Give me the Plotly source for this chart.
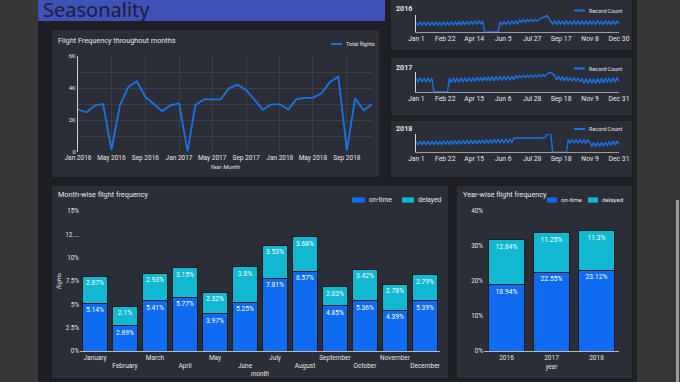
import plotly.graph_objects as go
import pandas as pd

W, H = 680, 382
def fx(p): return p / W
def fy(p): return 1 - p / H

# ---------------- data ----------------
month_starts = pd.date_range('2016-01-01', periods=36, freq='MS')
total_flights = [2670, 2500, 2920, 3020, 150, 2940, 4080, 4440, 3460, 3020, 2580, 2940,
                 3060, 60, 2940, 3310, 3310, 3310, 4000, 4230, 3900, 3250, 2650, 3000,
                 3000, 2670, 3310, 3400, 3400, 3690, 4380, 4730, 120, 3380, 2630, 3000]

record_2016 = [88, 62, 88, 62, 88, 62, 88, 62, 88, 62, 88, 62, 88, 62, 88, 62,
               90, 64, 90, 64, 92, 64, 92, 66, 94, 66, 94, 68, 96, 70, 98, 72,
               100, 74, 100,
               0, 0, 0, 0, 0, 0, 0, 0,
               92, 66, 94, 68, 96, 70, 98, 72, 100, 74,
               110, 90, 112, 92, 114, 94, 116, 96, 116, 98,
               116, 122, 130, 140, 152, 120,
               100, 70, 98, 68, 100, 70, 98, 68, 100, 70, 98, 68, 100, 70, 98, 68, 100, 70,
               98, 68, 100, 70, 98, 68, 100, 70, 98, 68, 100, 70, 98, 68, 100, 70, 98, 68]
record_2017 = [100, 70, 102, 72, 100, 70, 102, 72, 100,
               0, 0, 0, 0, 0, 0, 0, 0,
               98, 66, 100, 68, 100, 70, 102, 70, 102, 72, 104, 72, 104, 74,
               106, 76, 106, 78, 108, 78, 108, 80, 110, 80, 110, 82, 112, 82, 112, 84, 114, 84, 114, 86,
               116, 100, 118, 102, 118, 104, 120, 104, 122, 106, 122, 108, 124, 110, 126, 112,
               130, 138, 142, 128,
               118, 86, 112, 82, 110, 80, 108, 78, 106, 76, 104, 74, 104, 72,
               96, 62, 94, 60, 96, 62, 94, 60, 96, 62, 98, 64,
               100, 66, 102, 68, 102, 70, 104, 72]
record_2018 = [96, 64, 96, 66, 98, 64, 96, 66, 98, 66, 98, 68, 100, 68, 100, 70, 102, 68, 102, 70,
               104, 70, 104, 72, 104, 72, 106, 74, 106, 74,
               108, 76, 108, 78, 110, 76, 112, 78, 112, 80, 114, 80, 116, 82, 116, 80, 118, 82, 118, 84,
               126, 122, 128, 124, 128, 124, 128, 124, 128, 124, 128, 124, 128, 126, 128, 126, 128,
               158, 160, 160,
               0, 0, 0, 0, 0, 0, 0, 0,
               112, 82, 110, 80, 112, 82, 110, 80, 110, 78, 108,
               88, 52, 86, 50, 86, 52, 88, 54, 90, 56,
               96, 62, 98, 64, 100, 66]

month_names = ['January', 'February', 'March', 'April', 'May', 'June', 'July',
               'August', 'September', 'October', 'November', 'December']
month_ontime = [5.14, 2.69, 5.41, 5.77, 3.97, 5.25, 7.81, 8.57, 4.85, 5.36, 4.39, 5.39]
month_delayed = [2.87, 2.1, 2.93, 3.15, 2.32, 3.8, 3.53, 3.68, 2.03, 3.42, 2.78, 2.79]

years = ['2016', '2017', '2018']
year_ontime = [18.94, 22.55, 23.12]
year_delayed = [12.84, 11.25, 11.3]

month_ytick_vals = [0, 2.5, 5, 7.5, 10, 12.5, 15]
month_ytick_text = ['0%', '2.5%', '5%', '7.5%', '10%', '12....', '15%']
year_ytick_vals = [0, 10, 20, 30, 40]
year_ytick_text = ['0%', '10%', '20%', '30%', '40%']
line_ytick_vals = [0, 2000, 4000, 6000]
line_ytick_text = ['0', '2K', '4K', '6K']

# ---------------- style ----------------
FONT = 'Roboto'
BG = '#1e1f24'
PANEL = '#2b2e37'
STRIP = '#373737'
TXT = '#e6e6e6'
GRID = '#3c3f4a'
BLUE_LINE = '#1a73e8'
ONTIME = '#0f6cf2'
DELAYED = '#10b9cf'

fig = go.Figure()

# line chart
fig.add_trace(go.Scatter(x=month_starts, y=total_flights, mode='lines',
                         line=dict(color=BLUE_LINE, width=1.8), xaxis='x', yaxis='y',
                         showlegend=False))

# small daily charts
small = [(record_2016, 2016, 'x2', 'y2'), (record_2017, 2017, 'x3', 'y3'),
         (record_2018, 2018, 'x4', 'y4')]
for vals, yr, xa, ya in small:
    dates = pd.date_range(f'{yr}-01-01', periods=len(vals), freq='84h')
    fig.add_trace(go.Scatter(x=dates, y=vals, mode='lines',
                             line=dict(color=BLUE_LINE, width=1.4), xaxis=xa, yaxis=ya,
                             showlegend=False))

month_labels = [m if i % 2 == 0 else '<br>' + m for i, m in enumerate(month_names)]
bar_line = dict(color='#1c1d22', width=1)
def bar(xs, ys, color, xa, ya):
    fig.add_trace(go.Bar(x=xs, y=ys, marker=dict(color=color, line=bar_line),
                         text=[f'{v}%' for v in ys], textposition='inside',
                         insidetextanchor='end', textangle=0,
                         textfont=dict(color='white', size=6.7, family=FONT),
                         xaxis=xa, yaxis=ya, showlegend=False))

bar(month_names, month_ontime, ONTIME, 'x5', 'y5')
bar(month_names, month_delayed, DELAYED, 'x5', 'y5')
bar(years, year_ontime, ONTIME, 'x6', 'y6')
bar(years, year_delayed, DELAYED, 'x6', 'y6')

def tf(size):
    return dict(family=FONT, size=size, color=TXT)

layout = dict(
    template='none',
    width=W, height=H, autosize=False,
    margin=dict(l=0, r=0, t=0, b=0, pad=0),
    paper_bgcolor=BG, plot_bgcolor='rgba(0,0,0,0)',
    font=dict(family=FONT, color=TXT),
    barmode='stack',
    uniformtext=dict(minsize=6.7, mode='show'),
    showlegend=False,
    hovermode=False,
)

# line chart axes
layout['xaxis'] = dict(domain=[fx(78), fx(372)], anchor='y', type='date', automargin=False,
                       range=[month_starts[0], month_starts[-1]],
                       tick0='2016-01-01', dtick='M4', tickformat='%b %Y', tickangle=0,
                       showgrid=True, gridcolor=GRID, gridwidth=1, zeroline=False,
                       showline=False, ticks='', tickfont=tf(6.5),
                       title=dict(text='<i>Year Month</i>', font=tf(6), standoff=4))
layout['yaxis'] = dict(domain=[fy(152.3), fy(56.3)], anchor='x', range=[0, 6000], automargin=False,
                       tickmode='array', tickvals=line_ytick_vals, ticktext=line_ytick_text,
                       showgrid=True, gridcolor=GRID, zeroline=False,
                       minor=dict(tickmode='linear', tick0=0, dtick=1000, showgrid=True, gridcolor=GRID),
                       showline=True, linecolor='#cfcfcf', linewidth=1,
                       ticks='', tickfont=tf(6))

# small charts
small_dom = [(15, 31.7), (71.7, 91.7), (133.7, 152.3)]
small_max = [156, 146, 164]
for k, ((top, bot), (vals, yr, xa, ya)) in enumerate(zip(small_dom, small)):
    xn = 'xaxis' + xa[1:]
    yn = 'yaxis' + ya[1:]
    dates = pd.date_range(f'{yr}-01-01', periods=len(vals), freq='84h')
    layout[xn] = dict(domain=[fx(416.3), fx(619)], anchor=ya, type='date', automargin=False,
                      range=[dates[0], dates[-1]], tick0=f'{yr}-01-01', dtick=52 * 86400000,
                      tickformat='%b %-d', tickangle=0, showgrid=False, zeroline=False,
                      showline=True, linecolor='#9a9a9a', linewidth=1,
                      ticks='', tickfont=tf(6.8))
    layout[yn] = dict(domain=[fy(bot), fy(top)], anchor=xa, range=[0, small_max[k]],
                      automargin=False,
                      tickvals=[small_max[k]], showticklabels=False, showgrid=True,
                      gridcolor=GRID, zeroline=False, showline=True, linecolor='#d5d5d5',
                      linewidth=1, ticks='')

# month bar chart
layout['xaxis5'] = dict(domain=[fx(80), fx(440)], anchor='y5', type='category', automargin=False,
                        tickmode='array', tickvals=month_names, ticktext=month_labels, tickangle=0,
                        showline=True, linecolor='#b8b8b8', linewidth=1, ticks='', showgrid=False,
                        tickfont=tf(6.5),
                        title=dict(text='<i>month</i>', font=tf(6.5), standoff=0))
layout['yaxis5'] = dict(domain=[fy(351), fy(211)], anchor='x5', range=[0, 15], automargin=False,
                        tickmode='array', tickvals=month_ytick_vals, ticktext=month_ytick_text,
                        showgrid=False, zeroline=False, ticks='',
                        tickfont=tf(6.3),
                        title=dict(text='<i>flights</i>', font=tf(6), standoff=3))
layout['bargap'] = 0.18

# year bar chart
layout['xaxis6'] = dict(domain=[fx(484), fx(619)], anchor='y6', type='category', automargin=False,
                        tickangle=0, showgrid=False,
                        showline=True, linecolor='#b8b8b8', linewidth=1, ticks='',
                        tickfont=tf(6.5),
                        title=dict(text='<i>year</i>', font=tf(6.3), standoff=3))
layout['yaxis6'] = dict(domain=[fy(351), fy(211)], anchor='x6', range=[0, 40], automargin=False,
                        tickmode='array', tickvals=year_ytick_vals, ticktext=year_ytick_text,
                        showgrid=False, zeroline=False, ticks='',
                        tickfont=tf(6.3))

fig.update_layout(**layout)

# ---------------- panels / decorations ----------------
def rect(x0, y0, x1, y1, color, layer='below'):
    fig.add_shape(type='rect', xref='paper', yref='paper', x0=fx(x0), x1=fx(x1),
                  y0=fy(y1), y1=fy(y0), fillcolor=color, line=dict(width=0), layer=layer)

rect(0, 0, 38, 382, STRIP)
rect(637, 0, 680, 382, STRIP)
rect(676, 200, 679, 382, '#9c9c9c')
rect(38, 0, 385, 21, '#3f50b6')
rect(52, 30, 379, 177, PANEL)
rect(391, -5, 632, 50, PANEL)
rect(391, 58, 632, 115, PANEL)
rect(391, 121, 632, 177, PANEL)
rect(52, 186, 448, 378, PANEL)
rect(457, 186, 632, 378, PANEL)

def text(x, y, s, size, color=TXT, anchor='left'):
    fig.add_annotation(xref='paper', yref='paper', x=fx(x), y=fy(y), text=s,
                       showarrow=False, xanchor=anchor, yanchor='middle',
                       font=dict(family=FONT, size=size, color=color))

fig.add_annotation(xref='paper', yref='paper', x=fx(41), y=fy(10), text='Seasonality',
                   showarrow=False, xanchor='left', yanchor='middle',
                   font=dict(family='Noto Sans', size=20, color='#1a1d38'))
text(56, 40, 'Flight Frequency throughout months', 7.3)
text(394, 9, '<b>2016</b>', 7.2)
text(394, 67, '<b>2017</b>', 7.2)
text(394, 128.5, '<b>2018</b>', 7.2)
text(56, 194, 'Month-wise flight frequency', 7.3)
text(461, 194, 'Year-wise flight frequency', 7.3)

# legends (drawn manually for compact swatches)
def line_legend(x0, x1, y, label):
    fig.add_shape(type='line', xref='paper', yref='paper', x0=fx(x0), x1=fx(x1),
                  y0=fy(y), y1=fy(y), line=dict(color=BLUE_LINE, width=2))
    text(x1 + 1.5, y, label, 5.5)

line_legend(331, 342, 44, 'Total flights')
line_legend(574, 585, 10.5, 'Record Count')
line_legend(574, 585, 68.5, 'Record Count')
line_legend(574, 585, 129, 'Record Count')

def box_legend(x0, x1, y, color, label, size):
    fig.add_shape(type='rect', xref='paper', yref='paper', x0=fx(x0), x1=fx(x1),
                  y0=fy(y + 2.6), y1=fy(y - 2.6), fillcolor=color, line=dict(width=0))
    text(x1 + 2, y, label, size)

box_legend(352, 365, 200, ONTIME, 'on-time', 6.8)
box_legend(402, 414, 200, DELAYED, 'delayed', 6.8)
box_legend(547, 557, 200, ONTIME, 'on-time', 6.2)
box_legend(588, 598, 200, DELAYED, 'delayed', 6.2)

fig.write_html('out.html', config={'displayModeBar': False},
               post_script="document.body.style.margin='0';"
                           "document.body.style.background='#1e1f24';")
